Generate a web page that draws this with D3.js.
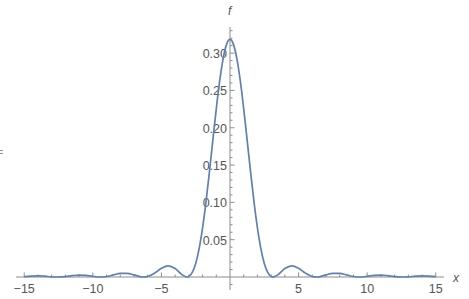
<!DOCTYPE html>
<html>
<head>
<meta charset="utf-8">
<script src="https://cdn.jsdelivr.net/npm/d3@7"></script>
<style>
  body { margin: 0; background: #fff; }
  svg { display: block; font-family: "Liberation Sans", Arial, sans-serif; }
  .tick-label { fill: #555; font-size: 12.5px; }
  .axis-label { fill: #555; font-size: 12px; font-style: italic; }
</style>
</head>
<body>
<div id="plot"></div>
<script>
// values (f vs x)
var xValues = [-15, -14.5, -14, -13.5, -13, -12.57, -12, -11.5, -11, -10.5, -10, -9.42, -9, -8.5, -8, -7.5, -7, -6.5, -6.28, -6, -5.5, -5, -4.5, -4, -3.5, -3.14, -3, -2.75, -2.5, -2.25, -2, -1.75, -1.5, -1.25, -1, -0.75, -0.5, -0.25,
  0, 0.25, 0.5, 0.75, 1, 1.25, 1.5, 1.75, 2, 2.25, 2.5, 2.75, 3, 3.14, 3.5, 4, 4.5, 5, 5.5, 6, 6.28, 6.5, 7, 7.5, 8, 8.5, 9, 9.42, 10, 10.5, 11, 11.5, 12, 12.57, 13, 13.5, 14, 14.5, 15];
var fValues = [0.0006, 0.0013, 0.0016, 0.0011, 0.0003, 0, 0.0006, 0.0018, 0.0026, 0.0022, 0.0009, 0, 0.0007, 0.0028, 0.0049, 0.0050, 0.0028, 0.0003, 0, 0.0007, 0.0052, 0.0117, 0.0150, 0.0114, 0.0032, 0, 0.0007, 0.0061, 0.0182, 0.0381, 0.0658, 0.1006, 0.1408, 0.1835, 0.2254, 0.2630, 0.2927, 0.3117,
  0.3183, 0.3117, 0.2927, 0.2630, 0.2254, 0.1835, 0.1408, 0.1006, 0.0658, 0.0381, 0.0182, 0.0061, 0.0007, 0, 0.0032, 0.0114, 0.0150, 0.0117, 0.0052, 0.0007, 0, 0.0003, 0.0028, 0.0050, 0.0049, 0.0028, 0.0007, 0, 0.0009, 0.0022, 0.0026, 0.0018, 0.0006, 0, 0.0003, 0.0011, 0.0016, 0.0013, 0.0006];

var xMajor = [-15, -10, -5, 5, 10, 15];
var xTickLabels = ["\u221215", "\u221210", "\u22125", "5", "10", "15"];
var yMajor = [0.05, 0.10, 0.15, 0.20, 0.25, 0.30];
var yTickLabels = ["0.05", "0.10", "0.15", "0.20", "0.25", "0.30"];

var width = 469, height = 299;
var axisColor = "#8c8c8c";
var lineColor = "#5e81b5";

var svg = d3.select("#plot").append("svg")
  .attr("width", width).attr("height", height);

var xScale = d3.scaleLinear().domain([-15.6, 15.6]).range([16, 444]);
var yScale = d3.scaleLinear().domain([-0.0174, 0.335]).range([290, 27]);

var x0 = xScale(0), y0 = yScale(0);

// axes
svg.append("line")
  .attr("x1", xScale.range()[0]).attr("x2", xScale.range()[1])
  .attr("y1", y0).attr("y2", y0)
  .attr("stroke", axisColor).attr("stroke-width", 1);
svg.append("line")
  .attr("x1", x0).attr("x2", x0)
  .attr("y1", yScale.range()[0]).attr("y2", yScale.range()[1])
  .attr("stroke", axisColor).attr("stroke-width", 1);

// x ticks: minor every 1, major every 5
var xMinor = d3.range(-15, 16, 1).filter(function(d) { return d !== 0 && d % 5 !== 0; });
svg.selectAll(".xminor").data(xMinor).enter().append("line")
  .attr("x1", function(d) { return xScale(d); }).attr("x2", function(d) { return xScale(d); })
  .attr("y1", y0).attr("y2", y0 - 2.5)
  .attr("stroke", axisColor);
svg.selectAll(".xmajor").data(xMajor).enter().append("line")
  .attr("x1", function(d) { return xScale(d); }).attr("x2", function(d) { return xScale(d); })
  .attr("y1", y0).attr("y2", y0 - 4.5)
  .attr("stroke", axisColor);
svg.selectAll(".xlab").data(xMajor).enter().append("text")
  .attr("class", "tick-label")
  .attr("x", function(d) { return xScale(d); })
  .attr("y", 293)
  .attr("text-anchor", "middle")
  .text(function(d, i) { return xTickLabels[i]; });

// y ticks: minor every 0.01, major every 0.05
var yMinor = d3.range(-1, 34).map(function(d) { return d / 100; })
  .filter(function(d) { return Math.round(d * 100) % 5 !== 0; });
svg.selectAll(".yminor").data(yMinor).enter().append("line")
  .attr("x1", x0).attr("x2", x0 + 2.5)
  .attr("y1", function(d) { return yScale(d); }).attr("y2", function(d) { return yScale(d); })
  .attr("stroke", axisColor);
svg.selectAll(".ymajor").data(yMajor).enter().append("line")
  .attr("x1", x0).attr("x2", x0 + 4.5)
  .attr("y1", function(d) { return yScale(d); }).attr("y2", function(d) { return yScale(d); })
  .attr("stroke", axisColor);
svg.selectAll(".ylab").data(yMajor).enter().append("text")
  .attr("class", "tick-label")
  .attr("x", x0 - 3)
  .attr("y", function(d) { return yScale(d) + 5; })
  .attr("text-anchor", "end")
  .text(function(d, i) { return yTickLabels[i]; });

// axis labels
svg.append("text").attr("class", "axis-label")
  .attr("x", x0 - 2).attr("y", 15).text("f");
svg.append("text").attr("class", "axis-label")
  .attr("x", 453).attr("y", 282).text("x");

// curve
var pts = xValues.map(function(d, i) { return [d, fValues[i]]; });
var line = d3.line()
  .x(function(d) { return xScale(d[0]); })
  .y(function(d) { return yScale(d[1]); })
  .curve(d3.curveMonotoneX);
svg.append("path")
  .datum(pts)
  .attr("d", line)
  .attr("fill", "none")
  .attr("stroke", lineColor)
  .attr("stroke-width", 1.7)
  .attr("stroke-linejoin", "round");

// small clipped legend swatch at the left edge
svg.append("rect").attr("x", 0).attr("y", 150).attr("width", 3).attr("height", 1).attr("fill", "#7f9bc6");
svg.append("rect").attr("x", 0).attr("y", 153).attr("width", 3).attr("height", 1).attr("fill", "#7f9bc6");
</script>
</body>
</html>
